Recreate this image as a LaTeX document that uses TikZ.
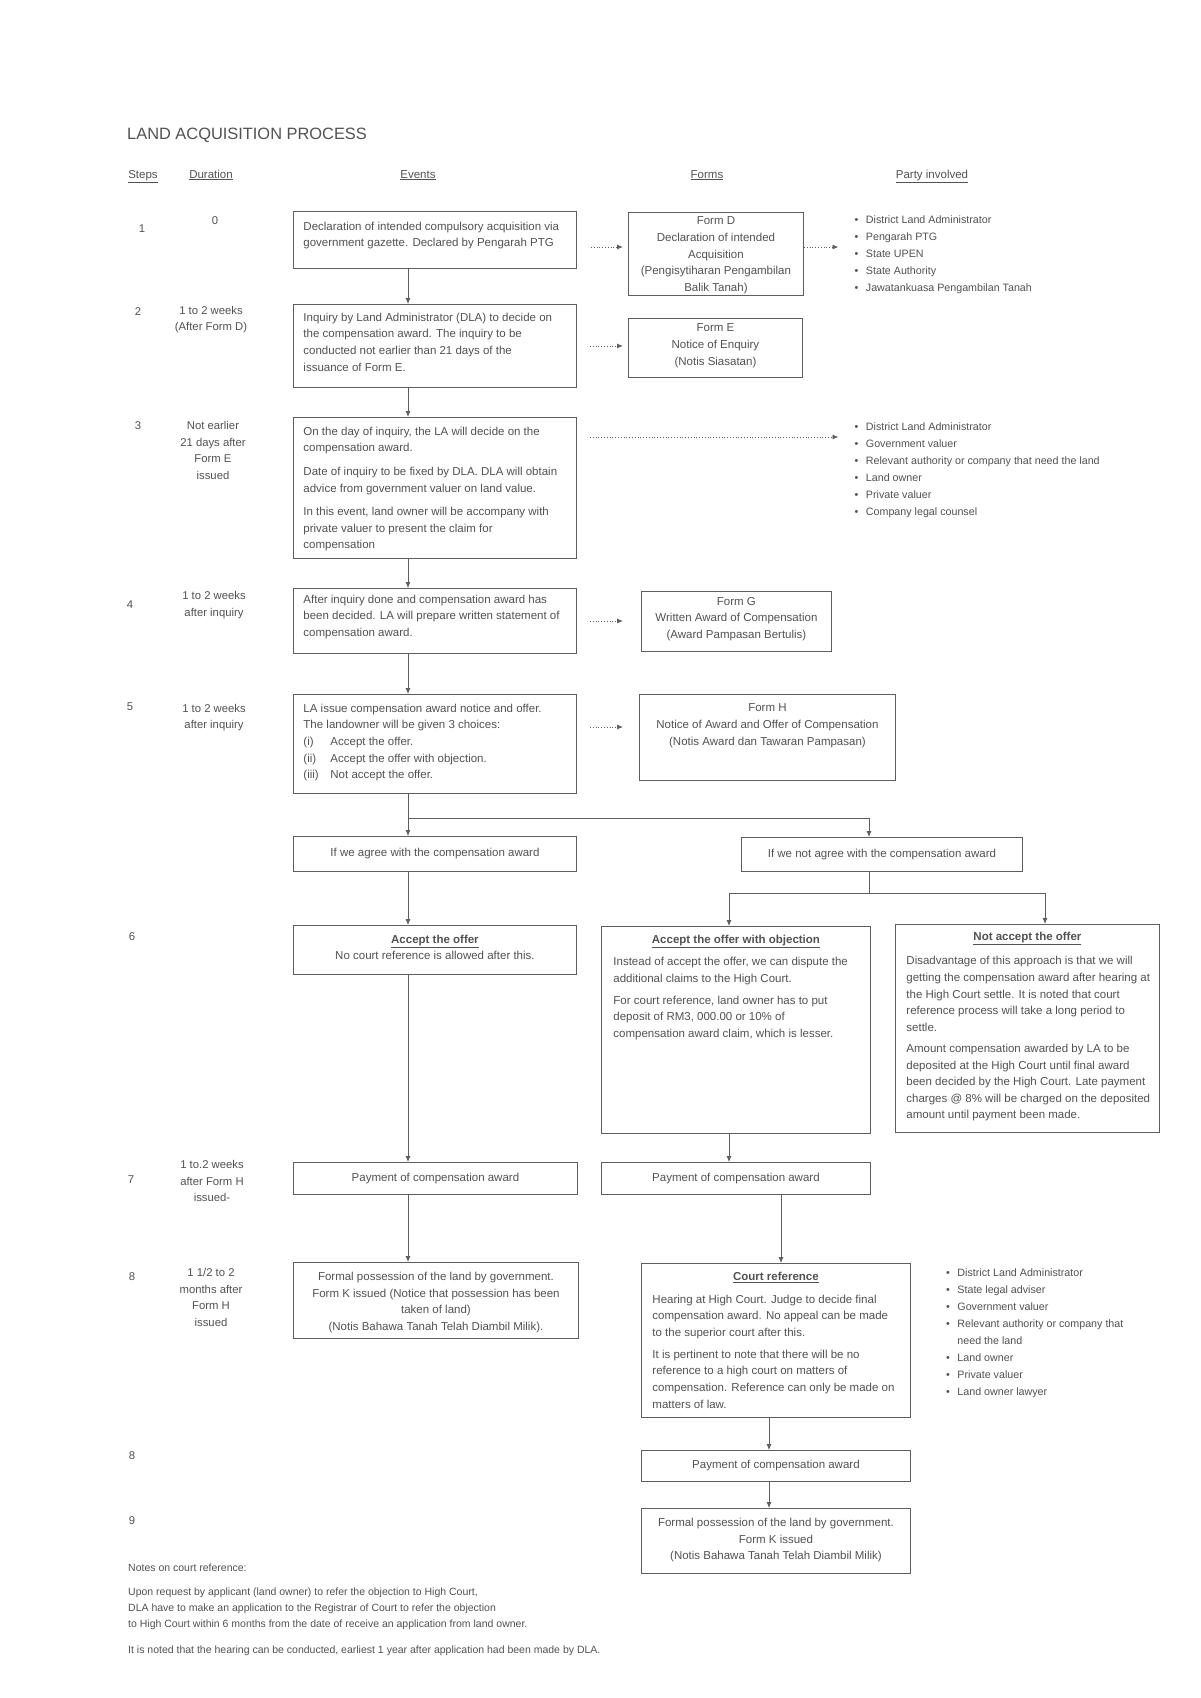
\documentclass[tikz,border=0pt]{standalone}
\usepackage{fontspec}
\setmainfont{Liberation Sans}
\usetikzlibrary{arrows.meta,calc}
\definecolor{ink}{gray}{0.32}
\definecolor{linec}{gray}{0.37}
\newcommand{\bodyf}{\fontsize{11.5}{16.6}\selectfont}
\newcommand{\durf}{\fontsize{11.3}{16.5}\selectfont}
\newcommand{\lstf}{\fontsize{10.7}{17}\selectfont}
\newcommand{\notef}{\fontsize{10.5}{16}\selectfont}
\newcommand{\pp}[1][6pt]{\par\vspace{#1}}
\newcommand{\lft}[1][10pt]{\raggedright\leftskip=#1\relax}
\newcommand{\bxt}[4]{\parbox[c][#2pt][t]{#1pt}{\vspace*{#3pt}#4\par}}
\newcommand{\ttl}[1]{{\centering\textbf{\underline{#1}}\par}}
\newcommand{\bul}{\textbullet\hspace{7.5pt}}
\tikzset{
  bx/.style={draw=linec, line width=0.9pt, inner sep=0pt, anchor=north west, text=ink, font=\bodyf},
  arr/.style={draw=linec, line width=0.8pt, -{Latex[length=6pt,width=5pt]}},
  darr/.style={arr, dotted, line width=0.9pt},
  ln/.style={draw=linec, line width=0.8pt},
  lbl/.style={text=ink, inner sep=0pt},
  dur/.style={lbl, font=\durf, align=center},
  lst/.style={lbl, font=\lstf, align=left, anchor=north west},
}
\begin{document}
\begin{tikzpicture}[x=1pt,y=-1pt]
\useasboundingbox (0,0) rectangle (1200,1698);
\fill[white] (0,0) rectangle (1200,1698);

% title and headers
\node[lbl, anchor=west, font=\fontsize{16.4}{19}\selectfont] (title) at (127,135) {LAND ACQUISITION PROCESS};
\node[lbl, font=\bodyf, anchor=base] (hS) at (143,178) {\underline{Steps}};
\node[lbl, font=\bodyf, anchor=base] (hD) at (211,178) {\underline{Duration}};
\node[lbl, font=\bodyf, anchor=base] (hE) at (418,178) {\underline{Events}};
\node[lbl, font=\bodyf, anchor=base] (hF) at (707,178) {\underline{Forms}};
\node[lbl, font=\bodyf, anchor=base] (hP) at (932,178) {\underline{Party involved}};

% step numbers
\node[dur] (n1) at (142,229) {1};
\node[dur] (n2) at (138,312) {2};
\node[dur] (n3) at (138,426) {3};
\node[dur] (n4) at (130,605) {4};
\node[dur] (n5) at (130,707) {5};
\node[dur] (n6) at (132,937) {6};
\node[dur] (n7) at (131,1180) {7};
\node[dur] (n8) at (132,1277) {8};
\node[dur] (n8b) at (132,1456) {8};
\node[dur] (n9) at (132,1521) {9};

% durations
\node[dur] (d1) at (215,221) {0};
\node[dur] (d2) at (211,319.5) {1 to 2 weeks\\(After Form D)};
\node[dur] (d3) at (213,450.5) {Not earlier\\21 days after\\Form E\\issued};
\node[dur] (d4) at (214,605) {1 to 2 weeks\\after inquiry};
\node[dur] (d5) at (214,717.5) {1 to 2 weeks\\after inquiry};
\node[dur] (d7) at (212,1181) {1 to.2 weeks\\after Form H\\issued-};
\node[dur] (d8) at (211,1297.5) {1 1/2 to 2\\months after\\Form H\\issued};

% event boxes
\node[bx] (b1) at (293,211) {\bxt{283}{57}{10.3}{\lft Declaration of intended compulsory acquisition via\\ government gazette. Declared by Pengarah PTG}};
\node[bx] (b2) at (293,304) {\bxt{283}{83}{8.6}{\lft Inquiry by Land Administrator (DLA) to decide on\\ the compensation award. The inquiry to be\\ conducted not earlier than 21 days of the\\ issuance of Form E.}};
\node[bx] (b3) at (293,417) {\bxt{283}{141}{9.6}{\lft On the day of inquiry, the LA will decide on the\\ compensation award.\pp[7pt] Date of inquiry to be fixed by DLA. DLA will obtain\\ advice from government valuer on land value.\pp[7pt] In this event, land owner will be accompany with\\ private valuer to present the claim for\\ compensation}};
\node[bx] (b4) at (293,588) {\bxt{283}{65}{6.6}{\lft After inquiry done and compensation award has\\ been decided. LA will prepare written statement of\\ compensation award.}};
\node[bx] (b5) at (293,694) {\bxt{283}{99}{9.6}{\lft LA issue compensation award notice and offer.\\ The landowner will be given 3 choices:\\ \makebox[27pt][l]{(i)}Accept the offer.\\ \makebox[27pt][l]{(ii)}Accept the offer with objection.\\ \makebox[27pt][l]{(iii)}Not accept the offer.}};

\node[bx, minimum width=283pt, minimum height=35pt] (agree) at (293,836) {If we agree with the compensation award};
\node[bx, minimum width=281pt, minimum height=34pt] (notagree) at (741,837) {If we not agree with the compensation award};

\node[bx] (acc) at (293,925) {\bxt{283}{49}{9.6}{\ttl{Accept the offer}{\centering No court reference is allowed after this.\par}}};
\node[bx] (obj) at (601,926) {\bxt{269}{207}{8.6}{\ttl{Accept the offer with objection}\pp[5.5pt]\lft[12pt]Instead of accept the offer, we can dispute the\\ additional claims to the High Court.\pp[5.5pt] For court reference, land owner has to put\\ deposit of RM3, 000.00 or 10\% of\\ compensation award claim, which is lesser.}};
\node[bx] (notacc) at (895,924) {\bxt{264}{208}{7.6}{\ttl{Not accept the offer}\pp[8pt]\lft[11pt]Disadvantage of this approach is that we will\\ getting the compensation award after hearing at\\ the High Court settle. It is noted that court\\ reference process will take a long period to\\ settle.\pp[4.5pt] Amount compensation awarded by LA to be\\ deposited at the High Court until final award\\ been decided by the High Court. Late payment\\ charges @ 8\% will be charged on the deposited\\ amount until payment been made.}};

\node[bx, minimum width=284pt, minimum height=32pt] (pay1) at (293,1162) {Payment of compensation award};
\node[bx, minimum width=269pt, minimum height=32pt] (pay2) at (601,1162) {Payment of compensation award};
\node[bx] (pos1) at (293,1262) {\bxt{285}{76}{9.6}{\centering Formal possession of the land by government.\\ Form K issued (Notice that possession has been\\ taken of land)\\ (Notis Bahawa Tanah Telah Diambil Milik).}};
\node[bx] (court) at (641,1263) {\bxt{269}{154}{8.6}{\ttl{Court reference}\pp[6pt]\lft[11pt]Hearing at High Court. Judge to decide final\\ compensation award. No appeal can be made\\ to the superior court after this.\pp[5.5pt] It is pertinent to note that there will be no\\ reference to a high court on matters of\\ compensation. Reference can only be made on\\ matters of law.}};
\node[bx, minimum width=269pt, minimum height=31pt] (pay3) at (641,1450) {Payment of compensation award};
\node[bx] (pos2) at (641,1508) {\bxt{269}{65}{9.6}{\centering Formal possession of the land by government.\\ Form K issued\\ (Notis Bahawa Tanah Telah Diambil Milik)}};

% forms
\node[bx] (fD) at (628,212) {\bxt{175}{83}{4.6}{\centering Form D\\ Declaration of intended\\ Acquisition\\ (Pengisytiharan Pengambilan\\ Balik Tanah)}};
\node[bx] (fE) at (628,318) {\bxt{174}{59}{5.6}{\centering Form E\\ Notice of Enquiry\\ (Notis Siasatan)}};
\node[bx] (fG) at (641,591) {\bxt{190}{60}{5.6}{\centering Form G\\ Written Award of Compensation\\ (Award Pampasan Bertulis)}};
\node[bx] (fH) at (639,694) {\bxt{256}{86}{9.6}{\centering Form H\\ Notice of Award and Offer of Compensation\\ (Notis Award dan Tawaran Pampasan)}};

% party lists
\node[lst] (p1) at (854.5,215.5) {\bul District Land Administrator\\ \bul Pengarah PTG\\ \bul State UPEN\\ \bul State Authority\\ \bul Jawatankuasa Pengambilan Tanah};
\node[lst] (p3) at (854.5,422.6) {\bul District Land Administrator\\ \bul Government valuer\\ \bul Relevant authority or company that need the land\\ \bul Land owner\\ \bul Private valuer\\ \bul Company legal counsel};
\node[lst] (p8) at (946,1268.6) {\bul District Land Administrator\\ \bul State legal adviser\\ \bul Government valuer\\ \bul Relevant authority or company that\\ \hphantom{\bul}need the land\\ \bul Land owner\\ \bul Private valuer\\ \bul Land owner lawyer};

% notes
\node[lbl, font=\notef, anchor=west] (nt) at (128,1568) {Notes on court reference:};
\node[lbl, font=\notef, align=left, anchor=north west] (nb) at (128,1588) {Upon request by applicant (land owner) to refer the objection to High Court,\\ DLA have to make an application to the Registrar of Court to refer the objection\\ to High Court within 6 months from the date of receive an application from land owner.};
\node[lbl, font=\notef, anchor=west] (nc) at (128,1651) {It is noted that the hearing can be conducted, earliest 1 year after application had been made by DLA.};

% x positions of connectors
\coordinate (xa) at (408,0);
\coordinate (xb) at (869,0);
\coordinate (xc) at (729,0);
\coordinate (xd) at (1045,0);
\coordinate (xe) at (781,0);
\coordinate (xf) at (769,0);

% main flow
\draw[arr] (b1.south -| xa) -- (b2.north -| xa);
\draw[arr] (b2.south -| xa) -- (b3.north -| xa);
\draw[arr] (b3.south -| xa) -- (b4.north -| xa);
\draw[arr] (b4.south -| xa) -- (b5.north -| xa);
\draw[arr] (b5.south -| xa) -- (agree.north -| xa);
\coordinate (s1) at ($(b5.south -| xa)+(0,24)$);
\draw[arr] (s1) -| (notagree.north -| xb);
\draw[arr] (agree.south -| xa) -- (acc.north -| xa);
\draw[arr] (acc.south -| xa) -- (pay1.north -| xa);
\draw[arr] (pay1.south -| xa) -- (pos1.north -| xa);
\coordinate (s2) at ($(notagree.south -| xb)+(0,21)$);
\draw[ln] (notagree.south -| xb) -- (s2);
\draw[arr] (s2) -| (obj.north -| xc);
\draw[arr] (s2) -| (notacc.north -| xd);
\draw[arr] (obj.south -| xc) -- (pay2.north -| xc);
\draw[arr] (pay2.south -| xe) -- (court.north -| xe);
\draw[arr] (court.south -| xf) -- (pay3.north -| xf);
\draw[arr] (pay3.south -| xf) -- (pos2.north -| xf);

% dotted links to forms and parties
\coordinate (r1) at (0,247);
\draw[darr, shorten <=14pt, shorten >=5pt] (b1.east |- r1) -- (fD.west |- r1);
\draw[darr, shorten >=16pt] (fD.east |- r1) -- (p1.west |- r1);
\draw[darr, shorten <=13pt, shorten >=5pt] (b2.east) -- (b2.east -| fE.west);
\coordinate (r3) at ($(b3.north east)+(0,20)$);
\draw[darr, shorten <=13pt, shorten >=16pt] (r3) -- (r3 -| p3.west);
\draw[darr, shorten <=13pt, shorten >=18pt] (b4.east) -- (b4.east -| fG.west);
\coordinate (r5) at ($(b5.north east)+(0,33)$);
\draw[darr, shorten <=13pt, shorten >=16pt] (r5) -- (r5 -| fH.west);
\end{tikzpicture}
\end{document}
